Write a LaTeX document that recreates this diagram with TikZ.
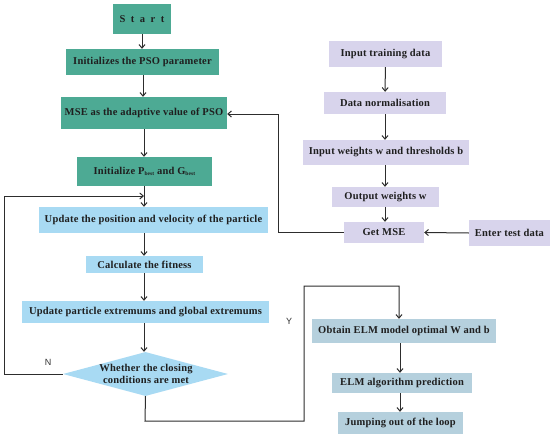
\documentclass[tikz,border=0pt]{standalone}
\usepackage{fontspec}
\setmainfont{Liberation Serif}[LetterSpace=2]
\newfontfamily\labfont{Liberation Sans}
\usetikzlibrary{shapes.geometric,arrows.meta}
\definecolor{teal1}{RGB}{77,170,148}
\definecolor{blue1}{RGB}{168,218,243}
\definecolor{lav1}{RGB}{216,212,236}
\definecolor{gb1}{RGB}{181,208,221}
\definecolor{ln}{RGB}{45,45,45}
\tikzset{
  box/.style={rectangle, inner sep=0pt, font=\fontsize{10.5}{12}\selectfont\bfseries, text=black!88},
  tealbox/.style={box, fill=teal1},
  bluebox/.style={box, fill=blue1},
  lavbox/.style={box, fill=lav1},
  gbbox/.style={box, fill=gb1},
  conn/.style={draw=ln, line width=1pt, -{Straight Barb[length=3.5pt,width=6pt]}},
  lab/.style={font=\labfont\fontsize{9}{10}\selectfont, text=black!80}
}
\newcommand{\bestsub}{\raisebox{-0.3pt}{\fontsize{5.5}{5.5}\selectfont best}}
\newcommand{\startgap}{\hspace{5.5pt}}
\begin{document}
\begin{tikzpicture}[x=1pt,y=-1pt]
\fill[white] (0,0) rectangle (550,439);
\useasboundingbox (0,0) rectangle (550,439);
% left column
\node[tealbox, minimum width=58, minimum height=30] (start) at (142,19) {S\startgap t\startgap a\startgap r\startgap t};
\node[tealbox, minimum width=153, minimum height=26] (init) at (142.5,62) {Initializes the PSO parameter};
\node[tealbox, minimum width=166, minimum height=32] (mse) at (144,113) {MSE as the adaptive value of PSO};
\node[tealbox, minimum width=135, minimum height=29] (pinit) at (144.5,171.5) {Initialize P\bestsub{} and G\bestsub};
\node[bluebox, minimum width=229, minimum height=26] (upd) at (153.5,220) {Update the position and velocity of the particle};
\node[bluebox, minimum width=117, minimum height=17] (fit) at (144.5,264.5) {Calculate the fitness};
\node[bluebox, minimum width=247, minimum height=22] (ext) at (145.5,312) {Update particle extremums and global extremums};
\node[diamond, aspect=3.75, inner sep=0pt, fill=blue1, minimum width=165, minimum height=44] (dia) at (145.5,374) {};
\node[font=\fontsize{10.5}{12}\selectfont\bfseries, text=black!88, align=center, inner sep=0pt] (diatext) at (146,374) {Whether the closing\\conditions are met};
% right column
\node[lavbox, minimum width=113, minimum height=26] (itd) at (385.5,54) {Input training data};
\node[lavbox, minimum width=122, minimum height=22] (dn) at (385,103) {Data normalisation};
\node[lavbox, minimum width=166, minimum height=25] (iw) at (386,152.5) {Input weights w and thresholds b};
\node[lavbox, minimum width=107, minimum height=20] (ow) at (385.5,197) {Output weights w};
\node[lavbox, minimum width=80, minimum height=21] (gm) at (384,232.5) {Get MSE};
\node[lavbox, minimum width=81, minimum height=26] (etd) at (509.5,233) {Enter test data};
\node[gbbox, minimum width=184, minimum height=24] (oelm) at (404,331) {Obtain ELM model optimal W and b};
\node[gbbox, minimum width=140, minimum height=20] (ep) at (402,383) {ELM algorithm prediction};
\node[gbbox, minimum width=125, minimum height=22] (jo) at (400.5,423) {Jumping out of the loop};
% labels
\node[lab] (nlab) at (48,362) {N};
\node[lab] (ylab) at (289,321) {Y};
% coordinates
\coordinate (lp1) at (4,374);
\coordinate (lp2) at (4,196);
\coordinate (lp3) at (144,196);
\coordinate (yb1) at (145,421);
\coordinate (yb2) at (304,421);
\coordinate (yb3) at (304,286);
\coordinate (yb4) at (399,286);
\coordinate (gb1) at (278,232.5);
\coordinate (gb2) at (278,114);
% connectors
\draw[conn] (start.south -| 142,0) -- (init.north -| 142,0);
\draw[conn] (init.south -| 143,0) -- (mse.north -| 143,0);
\draw[conn] (mse.south -| 144,0) -- (pinit.north -| 144,0);
\draw[conn] (pinit.south -| 144,0) -- (upd.north -| 144,0);
\draw[conn] (upd.south -| 144,0) -- (fit.north -| 144,0);
\draw[conn] (fit.south -| 144,0) -- (ext.north -| 144,0);
\draw[conn] (ext.south -| 144,0) -- (dia.north -| 144,0);
\draw[conn] (dia.west) -- (lp1) -- (lp2) -- (lp3);
\draw[conn] (dia.south) -- (yb1) -- (yb2) -- (yb3) -- (yb4) -- (oelm.north -| yb4);
\draw[conn] (oelm.south -| 400,0) -- (ep.north -| 400,0);
\draw[conn] (ep.south -| 400,0) -- (jo.north -| 400,0);
\draw[conn] (itd) -- (dn);
\draw[conn] (dn.south -| 385,0) -- (iw.north -| 385,0);
\draw[conn] (iw.south -| 385,0) -- (ow.north -| 385,0);
\draw[conn] (ow.south -| 385,0) -- (gm.north -| 385,0);
\draw[conn] (etd.west) -- (gm.east);
\draw[conn] (gm.west) -- (gb1) -- (gb2) -- (mse.east |- gb2);
\end{tikzpicture}
\end{document}
